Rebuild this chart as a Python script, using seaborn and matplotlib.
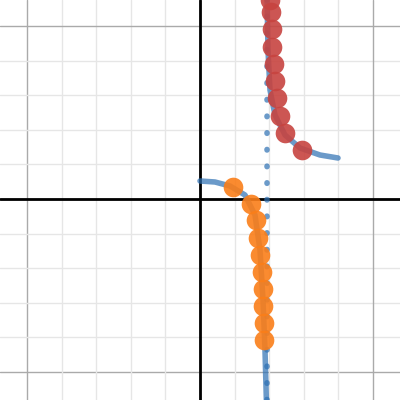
import numpy as np
import matplotlib
matplotlib.use("Agg")
import matplotlib.pyplot as plt
import seaborn as sns

S = 34.6
def ux(p): return (np.array(p) - 200) / S
def uy(p): return (199 - np.array(p)) / S

# values (pixel coords converted to graph units)
red_x = ux([270, 271, 272, 272, 274, 275, 277, 280, 285, 302])
red_y = uy([0, 12, 29, 47, 64, 81, 98, 116, 133, 150])
orange_x = ux([233, 251, 256, 258, 260, 262, 263, 263, 264, 264])
orange_y = uy([187, 204, 220, 238, 255, 272, 289, 306, 323, 340])
right_x = ux([267, 268, 270, 275, 285, 300, 320, 338])
right_y = uy([-5, 50, 90, 115, 135, 148, 155, 158])
left_x = ux([200, 215, 230, 245, 255, 260, 263, 265, 266.5])
left_y = uy([181, 182, 186, 195, 215, 250, 300, 350, 405])
asym_x = ux(267)

sns.set_style("white")
fig = plt.figure(figsize=(4, 4), dpi=100)
ax = fig.add_axes([0, 0, 1, 1])
xmin, xmax = -200 / S, 200 / S
ymin, ymax = -201 / S, 199 / S
ax.set_xlim(xmin, xmax); ax.set_ylim(ymin, ymax)
for k in range(-6, 7):
    ax.axvline(k, color="#e6e6e6" if k % 5 else "#aaaaaa", lw=1, zorder=0)
    ax.axhline(k, color="#e6e6e6" if k % 5 else "#aaaaaa", lw=1, zorder=0)
ax.axvline(0, color="black", lw=2, zorder=1)
ax.axhline(0, color="black", lw=2, zorder=1)
ax.axvline(asym_x, color="#2d70b3", lw=4, alpha=0.7, ls=(0, (0.1, 2.9)),
           dash_capstyle="round", zorder=2)
sns.lineplot(x=right_x, y=right_y, ax=ax, color="#2d70b3", lw=4, alpha=0.7, sort=False, zorder=3)
sns.lineplot(x=left_x, y=left_y, ax=ax, color="#2d70b3", lw=4, alpha=0.7, sort=False, zorder=3)
sns.scatterplot(x=red_x, y=red_y, ax=ax, color="#c74440", s=200, alpha=0.9, linewidth=0, zorder=4)
sns.scatterplot(x=orange_x, y=orange_y, ax=ax, color="#fa7e19", s=200, alpha=0.9, linewidth=0, zorder=4)
ax.set_xticks([]); ax.set_yticks([])
for s in ax.spines.values():
    s.set_visible(False)
fig.savefig("out.png", dpi=100)
